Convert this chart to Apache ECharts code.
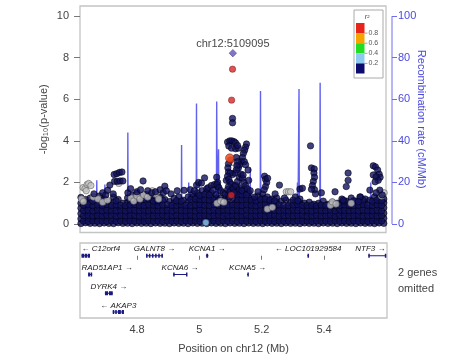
<!DOCTYPE html>
<html><head><meta charset="utf-8">
<script src="https://cdn.jsdelivr.net/npm/echarts@6/dist/echarts.min.js"></script>
<style>html,body{margin:0;padding:0;background:#fff}#c{width:474px;height:364px}</style>
</head><body><div id="c"></div>
<script>
// ---------- data ----------
const yTicks = [0, 2, 4, 6, 8, 10];
const rTicks = [0, 20, 40, 60, 80, 100];
const xTicks = [4.8, 5, 5.2, 5.4];

// dense low band: [position, -log10 p values...]
const baseCols = [
[4.620,0.02,0.25,0.5,0.76,1.0,1.28],[4.635,0.06,0.3,0.55,0.8,1.05,1.18],[4.650,0.03,0.27,0.52,0.78,1.02,1.25],
[4.665,0.04,0.29,0.53,0.8,1.12],[4.680,0.02,0.26,0.51,0.77,1.04,1.35],[4.695,0.05,0.28,0.54,0.79,1.02,1.2],
[4.710,0.03,0.3,0.55,0.8,1.08],[4.725,0.02,0.25,0.5,0.76,1.02,1.3],[4.740,0.06,0.31,0.56,0.82,1.18],
[4.755,0.03,0.27,0.52,0.78,1.0],[4.770,0.04,0.28,0.53,0.79,1.04,1.25],[4.785,0.02,0.26,0.5,0.76,1.02,1.38],
[4.800,0.05,0.3,0.55,0.8,1.05,1.48],[4.815,0.03,0.27,0.52,0.78,1.04,1.33],[4.830,0.04,0.29,0.54,0.79,1.05,1.42],
[4.845,0.02,0.26,0.51,0.77,1.03,1.28],[4.860,0.05,0.28,0.53,0.8,1.02,1.24],[4.875,0.03,0.27,0.52,0.78,1.04,1.3],
[4.890,0.04,0.3,0.55,0.79,1.18],[4.905,0.02,0.25,0.5,0.76,1.08],[4.920,0.05,0.28,0.54,0.8,1.02,1.24],
[4.935,0.03,0.27,0.52,0.78,1.04,1.3],[4.950,0.04,0.29,0.53,0.79,1.14],[4.965,0.02,0.26,0.51,0.77,1.03,1.3],
[4.980,0.05,0.3,0.55,0.8,1.05,1.3,1.45],[4.995,0.03,0.27,0.52,0.78,1.04,1.28,1.5],[5.010,0.04,0.28,0.53,0.79,1.05,1.32,1.6],
[5.025,0.02,0.26,0.51,0.77,1.03,1.3,1.55,1.7],[5.040,0.05,0.29,0.54,0.8,1.05,1.28,1.5],[5.055,0.03,0.27,0.52,0.78,1.04,1.25,1.42],
[5.070,0.04,0.28,0.53,0.79,1.05,1.25],[5.085,0.02,0.26,0.51,0.77,1.02,1.22],[5.100,0.05,0.3,0.55,0.8,1.05,1.3,1.58],
[5.115,0.03,0.27,0.52,0.78,1.04,1.3,1.55,1.85],[5.130,0.04,0.28,0.53,0.79,1.05,1.3,1.55,1.75],[5.145,0.02,0.26,0.51,0.77,1.03,1.28,1.5,1.68],
[5.160,0.05,0.29,0.54,0.8,1.05,1.28,1.5],[5.175,0.03,0.27,0.52,0.78,1.02,1.2],[5.190,0.04,0.28,0.53,0.79,1.05,1.35],
[5.205,0.02,0.26,0.51,0.77,1.03,1.25,1.45],[5.220,0.05,0.3,0.55,0.8,1.05,1.3],[5.235,0.03,0.27,0.52,0.78,1.04,1.2],
[5.250,0.04,0.28,0.53,0.79,1.05,1.25],[5.265,0.02,0.26,0.51,0.77,1.1],[5.280,0.05,0.29,0.54,0.8,1.15],
[5.295,0.03,0.27,0.52,0.78,1.05],[5.310,0.04,0.28,0.53,0.79,1.05,1.3],[5.325,0.02,0.26,0.51,0.77,1.03,1.2],
[5.340,0.05,0.3,0.55,0.8,1.0],[5.355,0.03,0.27,0.52,0.78,1.05],[5.370,0.04,0.28,0.53,0.79,0.95],
[5.385,0.02,0.26,0.51,0.77,1.0],[5.400,0.05,0.29,0.54,0.8,1.1],[5.415,0.03,0.27,0.52,0.78,0.95],
[5.430,0.04,0.28,0.53,0.79,1.05],[5.445,0.02,0.26,0.51,0.77,1.0],[5.460,0.05,0.3,0.55,0.8,1.04,1.2],
[5.475,0.03,0.27,0.52,0.78,1.1],[5.490,0.04,0.28,0.53,0.79,1.03,1.25],[5.505,0.02,0.26,0.51,0.77,1.1],
[5.520,0.05,0.29,0.54,0.8,1.05,1.3],[5.535,0.03,0.27,0.52,0.78,1.02,1.2],[5.550,0.04,0.28,0.53,0.79,1.15],
[5.565,0.02,0.26,0.51,0.77,1.03,1.3],[5.580,0.05,0.3,0.55,0.8,1.04,1.25],[5.595,0.03,0.27,0.52,0.78,1.02,1.2]
];
const fillCols = [
[4.628,0.14,0.4,0.65,0.9],[4.643,0.12,0.41,0.66,0.92],[4.658,0.15,0.38,0.63,0.88,1.1],[4.673,0.13,0.4,0.67,0.91],
[4.688,0.14,0.39,0.64,0.9,1.15],[4.703,0.12,0.42,0.66,0.93],[4.718,0.15,0.4,0.65,0.89],[4.733,0.13,0.38,0.64,0.92,1.12],
[4.748,0.14,0.41,0.66,0.9],[4.763,0.12,0.39,0.63,0.88],[4.778,0.15,0.4,0.67,0.91,1.15],[4.793,0.13,0.42,0.65,0.93,1.2],
[4.808,0.14,0.38,0.64,0.9,1.22],[4.823,0.12,0.4,0.66,0.89,1.18],[4.838,0.15,0.41,0.63,0.92,1.2],[4.853,0.13,0.39,0.67,0.9,1.1],
[4.868,0.14,0.4,0.65,0.88,1.12],[4.883,0.12,0.42,0.64,0.91,1.15],[4.898,0.15,0.38,0.66,0.93],[4.913,0.13,0.4,0.63,0.9],
[4.928,0.14,0.41,0.67,0.89,1.12],[4.943,0.12,0.39,0.65,0.92,1.1],[4.958,0.15,0.4,0.64,0.9],[4.973,0.13,0.42,0.66,0.88,1.18],
[4.988,0.14,0.38,0.63,0.91,1.2],[5.003,0.12,0.4,0.67,0.93,1.18,1.38],[5.018,0.15,0.41,0.65,0.9,1.17,1.42],[5.033,0.13,0.39,0.64,0.89,1.15,1.4],
[5.048,0.14,0.4,0.66,0.92,1.16],[5.063,0.12,0.42,0.63,0.9,1.15],[5.078,0.15,0.38,0.67,0.88,1.12],[5.093,0.13,0.4,0.65,0.91,1.18,1.42],
[5.108,0.14,0.41,0.64,0.93,1.18,1.42,1.65],[5.123,0.12,0.39,0.66,0.9,1.17,1.42,1.68],[5.138,0.15,0.4,0.63,0.89,1.16,1.4,1.6],[5.153,0.13,0.42,0.67,0.92,1.18,1.4],
[5.168,0.14,0.38,0.65,0.9,1.15],[5.183,0.12,0.4,0.64,0.88,1.12],[5.198,0.15,0.41,0.66,0.91,1.18],[5.213,0.13,0.39,0.63,0.93,1.2],
[5.228,0.14,0.4,0.67,0.9,1.15],[5.243,0.12,0.42,0.65,0.89,1.12],[5.258,0.15,0.38,0.64,0.92],[5.273,0.13,0.4,0.66,0.9],
[5.288,0.14,0.41,0.63,0.88],[5.303,0.12,0.39,0.67,0.91,1.15],[5.318,0.15,0.4,0.65,0.93,1.12],[5.333,0.13,0.42,0.64,0.9],
[5.348,0.14,0.38,0.66,0.89],[5.363,0.12,0.4,0.63,0.9],[5.378,0.15,0.41,0.67,0.88],[5.393,0.13,0.39,0.65,0.91],
[5.408,0.14,0.4,0.64,0.9],[5.423,0.12,0.42,0.66,0.88],[5.438,0.15,0.38,0.63,0.9],[5.453,0.13,0.4,0.67,0.89],
[5.468,0.14,0.41,0.65,0.92,1.1],[5.483,0.12,0.39,0.64,0.9],[5.498,0.15,0.4,0.66,0.88,1.12],[5.513,0.13,0.42,0.63,0.91],
[5.528,0.14,0.38,0.67,0.93,1.15],[5.543,0.12,0.4,0.65,0.9],[5.558,0.15,0.41,0.64,0.89,1.1],[5.573,0.13,0.39,0.66,0.92,1.15],
[5.588,0.14,0.4,0.63,0.9,1.12]
];
// navy points standing above the band
const navyHigh = [
[4.662,1.45],[4.690,1.5],[4.700,1.4],[4.706,1.62],[4.713,1.87],
[4.727,2.38],[4.735,2.42],[4.744,2.48],[4.752,2.5],[4.728,2.05],[4.737,2.05],[4.746,2.07],[4.755,2.07],
[4.724,1.45],[4.771,1.5],[4.780,1.7],[4.800,1.55],[4.812,1.65],[4.820,2.07],[4.835,1.6],[4.848,1.5],
[4.860,1.55],[4.875,1.65],[4.885,1.5],[4.890,1.82],[4.895,1.6],[4.910,1.45],[4.930,1.6],[4.952,1.62],
[4.972,1.65],[4.985,1.6],[4.992,1.87],[4.999,2.0],[5.008,1.97],[5.018,2.22],[5.030,1.75],[5.040,1.85],
[5.050,1.9],[5.045,1.62],[5.057,2.25],[5.060,2.0],[5.061,1.8],[5.058,1.9],[5.064,1.75],[5.070,1.6],
[5.078,1.5],[5.085,1.45],[5.088,2.1],
[5.108,5.08],[5.108,4.87],[5.092,3.94],[5.099,4.0],[5.106,4.0],[5.113,3.96],[5.118,3.9],[5.096,3.75],
[5.105,3.65],[5.118,3.62],[5.127,3.65],[5.124,3.78],
[5.153,3.85],[5.150,3.7],[5.147,3.55],[5.143,3.4],[5.140,3.2],[5.137,3.0],[5.131,2.85],[5.127,2.7],
[5.146,3.0],[5.150,2.85],[5.158,2.6],
[5.095,2.9],[5.093,2.7],[5.095,2.5],[5.120,3.2],[5.124,3.0],[5.122,2.8],[5.120,2.6],[5.115,2.45],
[5.108,2.38],[5.100,2.45],[5.092,2.3],[5.096,2.15],[5.100,2.0],[5.105,1.9],[5.095,1.8],[5.092,1.65],
[5.100,1.55],[5.110,1.7],[5.118,1.85],[5.124,2.05],[5.130,2.25],[5.135,2.4],[5.140,2.2],[5.145,2.0],
[5.150,1.85],[5.155,1.7],[5.160,2.1],[5.165,1.6],[5.113,1.5],[5.107,1.25],[5.098,1.3],[5.142,2.36],
[5.179,1.3],[5.211,2.3],[5.214,2.15],[5.218,2.0],[5.214,1.8],[5.210,1.65],[5.221,2.2],[5.259,1.87],
[5.275,1.25],[5.245,1.45],[5.190,1.55],
[5.325,1.68],[5.333,1.72],[5.359,3.76],[5.362,2.7],[5.371,2.65],[5.370,2.45],[5.372,2.25],[5.368,2.05],
[5.365,1.85],[5.372,1.65],[5.375,1.45],[5.362,1.67],[5.394,1.5],[5.438,1.55],
[5.480,2.45],[5.480,2.1],[5.474,1.8],[5.464,1.15],[5.518,1.3],[5.513,1.07],
[5.561,2.8],[5.568,2.75],[5.575,2.6],[5.580,2.4],[5.583,2.25],[5.561,2.36],[5.570,2.27],[5.577,2.1],
[5.567,2.03],[5.582,1.63],[5.550,1.63],[5.570,1.5],[5.590,1.4]
];
const grayPts = [
[4.622,1.2],[4.627,1.75],[4.628,1.08],[4.633,1.7],[4.637,1.6],[4.640,1.9],[4.645,1.95],[4.652,1.85],
[4.660,1.3],[4.675,1.2],[4.690,1.05],[4.705,1.15],[4.742,1.95],[4.781,1.25],[4.790,1.1],[4.800,1.35],
[4.810,1.2],[4.822,1.4],[4.835,1.3],[4.860,1.45],[4.870,1.2],[4.850,1.6],[5.058,1.0],[5.070,1.1],
[5.080,1.05],[5.112,2.95],[5.104,1.25],[5.220,0.72],[5.236,0.8],[5.281,1.55],[5.288,1.55],[5.295,1.55],
[5.423,0.9],[5.429,1.07],[5.441,0.96],[5.490,1.0],[5.588,1.35],[5.596,1.5]
];
const lightBluePts = [[5.022,0.07]];
const redPts = [[5.108,7.45],[5.105,5.96],[5.102,3.08],[5.104,1.39]];
const redBigPts = [[5.099,3.17]];
const topSnp = [[5.109,8.22]];
const topSnpName = 'chr12:5109095';

// recombination rate (cM/Mb)
const recomb = [
[4.617,3],[4.64,5],[4.66,2],[4.670,3],[4.671,21],[4.672,3],[4.69,2],[4.696,4],[4.697,19],[4.698,3],
[4.72,1],[4.75,2],[4.770,3],[4.771,44],[4.772,3],[4.80,2],[4.84,1],[4.88,2],[4.92,3],[4.943,3],
[4.944,38],[4.945,3],[4.966,2],[4.967,20],[4.968,3],[4.991,3],[4.992,58],[4.993,5],[5.001,4],[5.002,21],
[5.003,4],[5.03,2],[5.056,3],[5.057,59],[5.059,6],[5.062,6],[5.063,36],[5.064,5],[5.09,3],[5.130,4],
[5.131,33],[5.132,4],[5.164,3],[5.165,27],[5.166,3],[5.197,4],[5.198,64],[5.199,5],[5.23,3],[5.27,4],
[5.30,6],[5.316,8],[5.317,20],[5.319,9],[5.321,9],[5.322,65],[5.323,10],[5.35,9],[5.389,10],[5.390,68],
[5.391,9],[5.42,8],[5.46,6],[5.50,5],[5.552,5],[5.553,20],[5.554,5],[5.58,4],[5.602,4]
];

// genes
const geneNames  = ['C12orf4','GALNT8','KCNA1','LOC101929584','NTF3','RAD51AP1','KCNA6','KCNA5','DYRK4','AKAP3'];
const geneStart  = [4.622,4.829,5.021,5.346,5.542,4.643,4.916,5.153,4.697,4.722];
const geneEnd    = [4.649,4.883,5.029,5.352,5.597,4.656,4.960,5.156,4.722,4.758];
const geneRow    = [0,0,0,0,0,1,1,1,2,3];
const geneStrand = [-1,1,1,-1,1,1,1,1,1,-1];
const geneExons  = [
 [[4.622,4.630],[4.632,4.640],[4.642,4.649]],
 [[4.829,4.832],[4.838,4.841],[4.848,4.852],[4.858,4.861],[4.868,4.873],[4.878,4.883]],
 [[5.022,5.028]],
 [[5.347,5.351]],
 [[5.542,5.544],[5.595,5.597]],
 [[4.643,4.649],[4.651,4.656]],
 [[4.916,4.920],[4.957,4.960]],
 [[5.154,5.155]],
 [[4.697,4.707],[4.710,4.722]],
 [[4.722,4.726],[4.730,4.735],[4.739,4.748],[4.751,4.758]]
];
const omittedText = ['2 genes', 'omitted'];

const legendLabels = ['0.8','0.6','0.4','0.2'];
const legendColors = ['#e8231a','#f7a400','#22dd22','#8ccaf2','#0b0b6e'];

// ---------- chart ----------
const flat = cols => cols.flatMap(c => c.slice(1).map(y => [c[0], y]));
const FONT = '"Liberation Sans", Arial, sans-serif';
const measureCtx = document.createElement('canvas').getContext('2d');
measureCtx.font = 'italic 8px "Liberation Sans"';

const navyStyle = {color:'#12125e', borderColor:'#000010', borderWidth:0.7};
const grayStyle = {color:'#c4c4c4', borderColor:'#5a5a5a', borderWidth:0.7};
const PT = 6.4;

const chart = echarts.init(document.getElementById('c'), null, {renderer:'canvas'});

function renderGene(params, api){
  const i = params.dataIndex;
  const row = api.value(2);
  const s = api.coord([api.value(0), row]);
  const e = api.coord([api.value(1), row]);
  const ch = [{type:'line', shape:{x1:s[0],y1:s[1],x2:e[0],y2:e[1]}, style:{stroke:'#1a1a80', lineWidth:1}}];
  geneExons[i].forEach(ex => {
    const a = api.coord([ex[0], row]), b = api.coord([ex[1], row]);
    ch.push({type:'rect', shape:{x:a[0], y:a[1]-2, width:Math.max(1.5, b[0]-a[0]), height:4}, style:{fill:'#1a1a80'}});
  });
  const label = geneStrand[i] > 0 ? geneNames[i] + ' \u2192' : '\u2190 ' + geneNames[i];
  const w = measureCtx.measureText(label).width;
  const cs = params.coordSys;
  let cx = (s[0] + e[0]) / 2;
  cx = Math.max(cs.x + 1.5 + w/2, Math.min(cs.x + cs.width - 1.5 - w/2, cx));
  ch.push({type:'text', x:cx, y:s[1]-6.5, style:{text:label, font:'italic 8px "Liberation Sans"', fill:'#1a1a1a', align:'center', verticalAlign:'middle'}});
  return {type:'group', children:ch};
}

const legendG = [];
legendG.push({type:'rect', shape:{x:354, y:10, width:29, height:68}, style:{fill:'#fff', stroke:'#aaa', lineWidth:1}, z:100});
legendG.push({type:'text', x:367, y:17, style:{text:'r\u00b2', font:'italic 7px "Liberation Sans"', fill:'#444', align:'center', verticalAlign:'middle'}, z:101});
legendColors.forEach((c,i) => {
  legendG.push({type:'rect', shape:{x:356, y:23 + i*10.1, width:8.5, height:10.1}, style:{fill:c}, z:101});
});
legendLabels.forEach((t,i) => {
  const y = 33.1 + i*10.1;
  legendG.push({type:'line', shape:{x1:364.5, y1:y, x2:367.5, y2:y}, style:{stroke:'#666', lineWidth:0.6}, z:101});
  legendG.push({type:'text', x:368.5, y:y, style:{text:t, font:'7px "Liberation Sans"', fill:'#555', align:'left', verticalAlign:'middle'}, z:101});
});
omittedText.forEach((t,i) => {
  legendG.push({type:'text', x:398, y:273 + i*16, style:{text:t, font:'11px "Liberation Sans"', fill:'#444', align:'left', verticalAlign:'middle'}});
});

const option = {
  animation:false,
  backgroundColor:'#fff',
  textStyle:{fontFamily:FONT},
  grid:[
    {left:80, top:6, width:306, height:226.5, show:true, borderColor:'#c4c4c4', borderWidth:1.3, backgroundColor:'transparent'},
    {left:80, top:243, width:307, height:75, show:true, borderColor:'#c4c4c4', borderWidth:1.3, backgroundColor:'transparent'}
  ],
  xAxis:[
    {type:'value', gridIndex:0, min:4.617, max:5.602, show:false},
    {type:'value', gridIndex:1, min:4.617, max:5.602,
      name:'Position on chr12 (Mb)', nameLocation:'middle', nameGap:25, nameMoveOverlap:false,
      nameTextStyle:{fontSize:11, color:'#444', fontFamily:FONT},
      axisLine:{show:false}, splitLine:{show:false},
      axisTick:{show:true, length:4, customValues:xTicks, lineStyle:{color:'#777'}},
      axisLabel:{customValues:xTicks, fontSize:11, color:'#444', margin:6, fontFamily:FONT, formatter:v => String(Math.round(v*10)/10)}
    }
  ],
  yAxis:[
    {type:'value', gridIndex:0, min:-0.41, max:10.49,
      name:'-log\u2081\u2080(p-value)', nameLocation:'middle', nameGap:31, nameRotate:90, nameMoveOverlap:false,
      nameTextStyle:{fontSize:11, color:'#444', fontFamily:FONT},
      axisLine:{show:false}, splitLine:{show:false},
      axisTick:{show:true, length:6, customValues:yTicks, lineStyle:{color:'#777'}},
      axisLabel:{customValues:yTicks, fontSize:11, color:'#444', margin:11, fontFamily:FONT}
    },
    {type:'value', gridIndex:0, position:'right', offset:6, min:-4.1, max:104.9,
      name:'Recombination rate (cM/Mb)', nameLocation:'middle', nameGap:24, nameRotate:-90, nameMoveOverlap:false,
      nameTextStyle:{fontSize:11, color:'#4b4be0', fontFamily:FONT},
      axisLine:{show:false}, splitLine:{show:false},
      axisTick:{show:true, length:5, customValues:rTicks, lineStyle:{color:'#6d6df0'}},
      axisLabel:{customValues:rTicks, fontSize:11, color:'#4b4be0', margin:6, fontFamily:FONT}
    },
    {type:'value', gridIndex:1, min:-0.68, max:3.32, inverse:true, show:false}
  ],
  graphic:legendG,
  series:[
    {type:'line', xAxisIndex:0, yAxisIndex:1, data:recomb, showSymbol:false, symbol:'none',
      lineStyle:{color:'rgba(70,70,235,0.85)', width:1.4}, z:1},
    {type:'scatter', xAxisIndex:0, yAxisIndex:0, data:flat(baseCols).concat(flat(fillCols)), symbolSize:PT, itemStyle:navyStyle, z:2},
    {type:'scatter', xAxisIndex:0, yAxisIndex:0, data:grayPts, symbolSize:PT, itemStyle:grayStyle, z:3},
    {type:'scatter', xAxisIndex:0, yAxisIndex:0, data:navyHigh, symbolSize:PT, itemStyle:navyStyle, z:4},
    {type:'scatter', xAxisIndex:0, yAxisIndex:0, data:lightBluePts, symbolSize:PT, itemStyle:{color:'#8ccaf2', borderColor:'#333', borderWidth:0.5}, z:5},
    {type:'scatter', xAxisIndex:0, yAxisIndex:0, data:redPts, symbolSize:PT, itemStyle:{color:'#d92525', borderColor:'#501010', borderWidth:0.5}, z:6},
    {type:'scatter', xAxisIndex:0, yAxisIndex:0, data:redBigPts, symbolSize:8.5, itemStyle:{color:'#e2461c', borderColor:'#6a1a0a', borderWidth:0.6}, z:6},
    {type:'scatter', xAxisIndex:0, yAxisIndex:0, data:topSnp, symbol:'diamond', symbolSize:7.5, itemStyle:{color:'#6650b8', borderColor:'#2a2060', borderWidth:0.5}, z:7,
      label:{show:true, position:'top', distance:0, formatter:topSnpName, fontSize:11, color:'#111', fontFamily:FONT}},
    {type:'custom', xAxisIndex:1, yAxisIndex:2, renderItem:renderGene, clip:false,
      data:geneNames.map((n,i) => [geneStart[i], geneEnd[i], geneRow[i]]), z:3}
  ]
};
chart.setOption(option);

// right-axis line spanning only the tick range (0..100), as in the original
const rx = chart.convertToPixel({gridIndex:0}, [5.602, 0])[0] + 6;
const ry0 = chart.convertToPixel({yAxisIndex:1}, rTicks[0]);
const ry1 = chart.convertToPixel({yAxisIndex:1}, rTicks[rTicks.length-1]);
chart.setOption({graphic: legendG.concat([{type:'line', shape:{x1:rx, y1:ry0, x2:rx, y2:ry1}, style:{stroke:'#6d6df0', lineWidth:1}}])});
</script>
</body></html>
